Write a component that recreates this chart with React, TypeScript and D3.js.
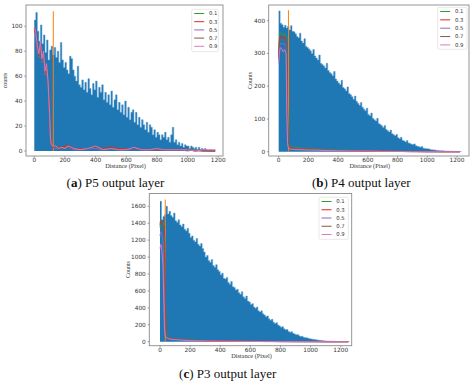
import React from 'react';
import * as d3 from 'd3';

// ---------------- data ----------------
const BIN = 10; // histogram bin width (pixels of distance)

// (a) P5 output layer histogram counts, bins start at 0, step 10
const p5Counts = [
  105, 111, 96, 88, 101, 86, 93, 79, 89, 73,
  81, 84, 77, 83, 75, 80, 71, 87, 73, 67,
  71, 65, 62, 76, 74, 65, 60, 56, 68, 53,
  51, 57, 49, 55, 47, 58, 50, 45, 54, 49,
  56, 43, 51, 47, 53, 41, 47, 39, 45, 37,
  48, 35, 41, 45, 33, 39, 31, 37, 29, 40,
  27, 35, 25, 31, 33, 23, 31, 21, 27, 19,
  25, 21, 17, 23, 15, 21, 19, 13, 17, 11,
  15, 13, 9, 13, 11, 15, 9, 11, 7, 13,
  19, 7, 9, 5, 7, 4, 6, 3, 5, 4,
  4, 2, 4, 3, 2, 3, 1, 3, 1, 2,
  1, 2, 1, 0, 1, 1, 0, 1,
];

// (b) P4 output layer histogram counts
const p4Counts = [
  430, 392, 388, 380, 386, 378, 383, 372, 385, 368,
  366, 360, 352, 348, 362, 338, 332, 345, 322, 318,
  314, 308, 300, 312, 292, 286, 280, 295, 270, 266,
  262, 256, 270, 248, 242, 238, 232, 245, 222, 216,
  210, 205, 218, 196, 192, 186, 198, 178, 174, 168,
  160, 170, 154, 148, 142, 150, 136, 130, 125, 133,
  114, 110, 118, 102, 98, 94, 102, 86, 83, 79,
  74, 80, 68, 64, 60, 66, 55, 52, 49, 53,
  43, 40, 44, 35, 33, 30, 34, 27, 25, 23,
  22, 24, 18, 17, 15, 14, 16, 11, 10, 9,
  9, 8, 6, 6, 5, 5, 4, 4, 3, 3,
  3, 2, 2, 2, 2, 1, 2, 1, 1, 1,
  1, 1, 1,
];

// (c) P3 output layer histogram counts
const p3Counts = [
  1660, 1440, 1480, 1500, 1600, 1510, 1540, 1490, 1470, 1520,
  1430, 1410, 1440, 1380, 1360, 1390, 1330, 1310, 1340, 1280,
  1230, 1250, 1200, 1180, 1220, 1150, 1130, 1160, 1100, 1060,
  1000, 1020, 960, 940, 970, 900, 880, 910, 850, 830,
  790, 810, 750, 740, 760, 700, 680, 710, 650, 640,
  610, 620, 580, 560, 590, 530, 510, 540, 480, 470,
  440, 450, 410, 395, 410, 365, 350, 365, 330, 315,
  295, 305, 270, 255, 265, 230, 215, 225, 198, 185,
  172, 178, 152, 140, 145, 122, 112, 118, 100, 92,
  82, 85, 70, 62, 64, 52, 46, 48, 40, 36,
  32, 30, 26, 23, 21, 18, 16, 14, 12, 10,
  9, 8, 7, 6, 5, 5, 4, 3, 3, 2,
  2, 2, 1, 1, 1, 1,
];

const seriesNames = ['0.1', '0.3', '0.5', '0.7', '0.9'];
const seriesColors = ['#2ca02c', '#d62728', '#9467bd', '#8c564b', '#e377c2'];

// (a) threshold curves
const p5LineX = [0, 10, 20, 30, 40, 50, 60, 70, 80, 90, 100, 105, 110, 120, 140, 160, 180, 200, 220, 240, 260, 300, 350, 400, 450, 500, 550, 600, 650, 700, 750, 800, 850, 900, 950, 1000, 1050, 1100, 1150, 1180];
const p5S01 = [98, 93, 83, 77, 86, 73, 78, 63, 68, 55, 29, 11, 6, 4, 4, 3, 3, 4, 4, 3, 2, 2, 2, 3, 2, 3, 2, 2, 2, 1, 1, 1, 1, 1, 1, 1, 1, 0, 0, 0];
const p5S03 = [99, 94, 83, 77, 87, 73, 79, 63, 69, 55, 29, 11, 6, 4, 3, 3, 3, 4, 5, 3, 2, 2, 2, 3, 2, 3, 2, 2, 2, 1, 1, 1, 1, 1, 1, 1, 0, 1, 0, 0];
const p5S05 = [97, 92, 80, 75, 85, 71, 77, 61, 66, 52, 26, 9, 5, 3, 2, 2, 2, 2, 3, 2, 1, 1, 2, 2, 1, 2, 1, 1, 2, 1, 1, 1, 1, 1, 1, 0, 1, 0, 0, 0];
const p5S07 = [98, 93, 82, 76, 86, 72, 78, 62, 68, 54, 28, 10, 5, 3, 3, 2, 2, 3, 3, 2, 2, 2, 2, 3, 2, 2, 1, 2, 2, 1, 1, 1, 1, 1, 1, 1, 0, 0, 0, 0];
const p5S09 = [100, 95, 84, 78, 88, 74, 80, 64, 70, 56, 30, 12, 6, 4, 4, 2, 3, 2, 4, 3, 2, 1, 2, 4, 1, 2, 1, 1, 3, 1, 1, 2, 1, 1, 1, 1, 0, 1, 1, 1];
const p5MarkerX = [124, 124];
const p5MarkerY = [0, 112];

// (b) threshold curves
const p4LineX = [0, 5, 10, 20, 30, 40, 50, 55, 60, 65, 70, 80, 100, 150, 200, 250, 300, 400, 500, 600, 700, 800, 900, 1000, 1100, 1200, 1220];
const p4S01 = [300, 350, 365, 360, 355, 362, 350, 300, 150, 30, 20, 16, 14, 11, 10, 8, 7, 5, 4, 3, 2, 1, 1, 1, 0, 0, 0];
const p4S03 = [290, 340, 355, 350, 348, 352, 340, 280, 120, 25, 16, 13, 11, 9, 8, 7, 6, 4, 3, 2, 2, 1, 1, 0, 0, 0, 0];
const p4S05 = [280, 320, 330, 330, 328, 332, 322, 200, 40, 15, 12, 10, 9, 8, 7, 6, 5, 4, 3, 2, 1, 1, 1, 0, 0, 0, 0];
const p4S07 = [285, 335, 348, 345, 342, 346, 335, 260, 90, 18, 13, 11, 10, 8, 7, 6, 5, 4, 3, 2, 1, 1, 0, 0, 0, 0, 0];
const p4S09 = [270, 300, 318, 315, 305, 312, 300, 120, 25, 12, 10, 8, 7, 6, 5, 5, 4, 3, 2, 2, 1, 1, 0, 0, 0, 0, 0];
const p4MarkerX = [66, 66];
const p4MarkerY = [0, 432];

// (c) threshold curves
const p3LineX = [0, 5, 10, 20, 25, 30, 35, 40, 50, 60, 80, 100, 150, 200, 300, 400, 500, 600, 700, 800, 900, 1000, 1100, 1200, 1250];
const p3S01 = [1350, 1420, 1430, 1400, 1380, 1300, 700, 120, 55, 45, 38, 33, 26, 20, 14, 10, 7, 5, 3, 2, 1, 1, 0, 0, 0];
const p3S03 = [1380, 1420, 1410, 1390, 1370, 1280, 650, 100, 50, 42, 36, 30, 24, 18, 12, 9, 6, 4, 3, 2, 1, 1, 0, 0, 0];
const p3S05 = [1250, 1300, 1280, 1200, 900, 400, 120, 60, 45, 38, 32, 28, 22, 16, 11, 8, 5, 4, 2, 1, 1, 0, 0, 0, 0];
const p3S07 = [1400, 1440, 1420, 1400, 1360, 1250, 600, 90, 48, 40, 35, 30, 23, 17, 12, 8, 6, 4, 3, 2, 1, 1, 0, 0, 0];
const p3S09 = [1100, 1150, 1120, 900, 500, 150, 70, 50, 40, 33, 28, 24, 18, 13, 9, 6, 4, 3, 2, 1, 1, 0, 0, 0, 0];
const p3MarkerX = [35, 35];
const p3MarkerY = [0, 1680];

const xTickValues = [0, 200, 400, 600, 800, 1000, 1200];
const p5YTicks = [0, 20, 40, 60, 80, 100];
const p4YTicks = [0, 100, 200, 300, 400];
const p3YTicks = [0, 200, 400, 600, 800, 1000, 1200, 1400, 1600];

const xLabel = 'Distance (Pixel)';

// ---------------- drawing ----------------
const SANS = 'DejaVu Sans, sans-serif';
const SERIF = 'Liberation Serif, DejaVu Serif, serif';

type PanelProps = {
  id: string;
  frame: { l: number; r: number; t: number; b: number };
  xDomain: [number, number];
  yDomain: [number, number];
  yTicks: number[];
  counts: number[];
  lineX: number[];
  series: number[][];
  markerX: number[];
  markerY: number[];
  yLabel: string;
  yLabelX: number;
  legend: { x: number; y: number; w: number; h: number; step: number };
};

function Panel(p: PanelProps) {
  const { frame } = p;
  const xs = d3.scaleLinear().domain(p.xDomain).range([frame.l, frame.r]);
  const ys = d3.scaleLinear().domain(p.yDomain).range([frame.b, frame.t]);

  const histPts: [number, number][] = p.counts.map((c, i) => [i * BIN, c]);
  histPts.push([p.counts.length * BIN, p.counts[p.counts.length - 1]]);
  const area = d3
    .area<[number, number]>()
    .x((d) => xs(d[0]))
    .y0(ys(0))
    .y1((d) => ys(d[1]))
    .curve(d3.curveStepAfter);
  const topLine = d3
    .line<[number, number]>()
    .x((d) => xs(d[0]))
    .y((d) => ys(d[1]))
    .curve(d3.curveStepAfter);

  const line = d3
    .line<number>()
    .x((_, i) => xs(p.lineX[i]))
    .y((d) => ys(d));

  const marker = d3
    .line<number>()
    .x((_, i) => xs(p.markerX[i]))
    .y((d) => ys(d));

  const clipId = 'clip-' + p.id;
  const lg = p.legend;
  return (
    <g>
      <defs>
        <clipPath id={clipId}>
          <rect x={frame.l} y={frame.t} width={frame.r - frame.l} height={frame.b - frame.t} />
        </clipPath>
      </defs>
      <g clipPath={`url(#${clipId})`}>
        <path d={area(histPts) || ''} fill="#1f77b4" />
        <path d={topLine(histPts) || ''} fill="none" stroke="#5a9fd2" strokeWidth={0.5} />
        <path d={marker(p.markerY) || ''} fill="none" stroke="#ff7f0e" strokeWidth={1} />
        {p.series.map((s, i) => (
          <path key={i} d={line(s) || ''} fill="none" stroke={seriesColors[i]} strokeWidth={0.9} />
        ))}
      </g>
      <rect
        x={frame.l}
        y={frame.t}
        width={frame.r - frame.l}
        height={frame.b - frame.t}
        fill="none"
        stroke="#8a8a8a"
        strokeWidth={0.9}
      />
      {/* x ticks */}
      {xTickValues.map((v) => (
        <g key={'x' + v}>
          <line x1={xs(v)} x2={xs(v)} y1={frame.b} y2={frame.b + 1.8} stroke="#666" strokeWidth={0.6} />
          <text x={xs(v)} y={frame.b + 5.8} fontSize={5.8} fontFamily={SANS} fill="#333" textAnchor="middle">
            {v}
          </text>
        </g>
      ))}
      {/* y ticks */}
      {p.yTicks.map((v) => (
        <g key={'y' + v}>
          <line x1={frame.l - 1.8} x2={frame.l} y1={ys(v)} y2={ys(v)} stroke="#666" strokeWidth={0.6} />
          <text x={frame.l - 3.5} y={ys(v) + 2} fontSize={5.8} fontFamily={SANS} fill="#333" textAnchor="end">
            {v}
          </text>
        </g>
      ))}
      <text
        x={(frame.l + frame.r) / 2 + 1}
        y={frame.b + 12}
        fontSize={6.3}
        fontFamily={SERIF}
        fill="#333"
        textAnchor="middle"
      >
        {xLabel}
      </text>
      <text
        transform={`translate(${p.yLabelX},${(frame.t + frame.b) / 2}) rotate(-90)`}
        fontSize={6}
        fontFamily={SERIF}
        fill="#333"
        textAnchor="middle"
        dy={2}
      >
        {p.yLabel}
      </text>
      {/* legend */}
      <rect x={lg.x} y={lg.y} width={lg.w} height={lg.h} rx={1.5} fill="#fff" fillOpacity={0.85} stroke="#d0d0d0" strokeWidth={0.5} />
      {seriesNames.map((n, i) => {
        const yy = lg.y + 4.2 + i * lg.step;
        return (
          <g key={n}>
            <line x1={lg.x + 2.5} x2={lg.x + 12.5} y1={yy} y2={yy} stroke={seriesColors[i]} strokeWidth={1} />
            <text x={lg.x + 17.3} y={yy + 1.9} fontSize={5.3} fontFamily={SANS} fill="#333">
              {n}
            </text>
          </g>
        );
      })}
    </g>
  );
}

function Caption({ x, y, letter, rest }: { x: number; y: number; letter: string; rest: string }) {
  return (
    <text x={x} y={y} fontSize={13} fontFamily={SERIF} fill="#111" textAnchor="middle">
      (<tspan fontWeight="bold">{letter}</tspan>) {rest}
    </text>
  );
}

export default function App() {
  return (
    <svg
      width={474}
      height={383}
      style={{ position: 'absolute', left: 0, top: 0, background: '#fff' }}
    >
      <rect x={0} y={0} width={474} height={383} fill="#fff" />
      <Panel
        id="a"
        frame={{ l: 26, r: 223, t: 5, b: 156 }}
        xDomain={[-54, 1231]}
        yDomain={[-4, 117]}
        yTicks={p5YTicks}
        counts={p5Counts}
        lineX={p5LineX}
        series={[p5S01, p5S03, p5S05, p5S07, p5S09]}
        markerX={p5MarkerX}
        markerY={p5MarkerY}
        yLabel="counts"
        yLabelX={5}
        legend={{ x: 191.7, y: 9.3, w: 26.6, h: 42.4, step: 8.2 }}
      />
      <Panel
        id="b"
        frame={{ l: 268.7, r: 469, t: 5, b: 156 }}
        xDomain={[-67, 1281]}
        yDomain={[-13, 448]}
        yTicks={p4YTicks}
        counts={p4Counts}
        lineX={p4LineX}
        series={[p4S01, p4S03, p4S05, p4S07, p4S09]}
        markerX={p4MarkerX}
        markerY={p4MarkerY}
        yLabel="Counts"
        yLabelX={250}
        legend={{ x: 437.7, y: 7.3, w: 29.3, h: 42, step: 8.35 }}
      />
      <Panel
        id="c"
        frame={{ l: 149.3, r: 351.7, t: 193.5, b: 345.7 }}
        xDomain={[-71, 1273]}
        yDomain={[-47, 1751]}
        yTicks={p3YTicks}
        counts={p3Counts}
        lineX={p3LineX}
        series={[p3S01, p3S03, p3S05, p3S07, p3S09]}
        markerX={p3MarkerX}
        markerY={p3MarkerY}
        yLabel="Counts"
        yLabelX={128}
        legend={{ x: 319, y: 197.3, w: 29.3, h: 42, step: 8.25 }}
      />
      <Caption x={115.5} y={186.8} letter="a" rest="P5 output layer" />
      <Caption x={361.2} y={186.8} letter="b" rest="P4 output layer" />
      <Caption x={227.7} y={377.8} letter="c" rest="P3 output layer" />
    </svg>
  );
}
